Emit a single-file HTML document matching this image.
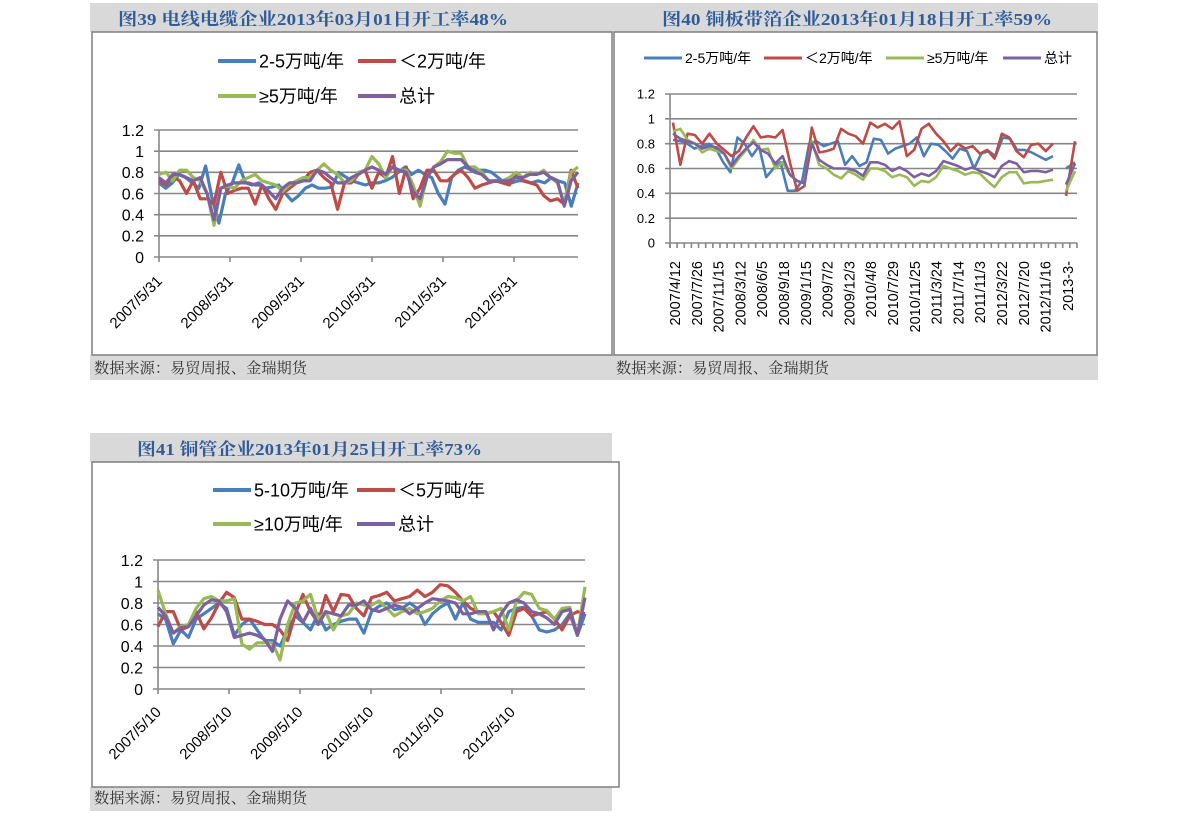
<!DOCTYPE html>
<html><head><meta charset="utf-8"><style>
html,body{margin:0;padding:0;background:#fff;width:1190px;height:823px;overflow:hidden}
svg{display:block}
</style></head><body>
<svg id="s" width="1190" height="823" xmlns="http://www.w3.org/2000/svg" font-family="Liberation Sans, Noto Sans CJK SC, sans-serif">
<rect x="90" y="3" width="522" height="29" fill="#d9d9d9"/>
<rect x="612" y="3" width="486" height="29" fill="#d9d9d9"/>
<rect x="90" y="355" width="522" height="25" fill="#d9d9d9"/>
<rect x="612" y="355" width="486" height="25" fill="#d9d9d9"/>
<rect x="92" y="32" width="520" height="323" fill="#fff" stroke="#7f7f7f" stroke-width="1.5"/>
<rect x="614" y="32" width="483" height="323" fill="#fff" stroke="#7f7f7f" stroke-width="1.5"/>
<rect x="90" y="433" width="522" height="29" fill="#d9d9d9"/>
<rect x="90" y="787" width="522" height="24" fill="#d9d9d9"/>
<rect x="92" y="462" width="527" height="325" fill="#fff" stroke="#7f7f7f" stroke-width="1.5"/>
<g font-family="Liberation Serif, Noto Serif CJK SC, serif" font-weight="bold" font-size="17" fill="#2f5c99">
<text x="118" y="25" textLength="390" lengthAdjust="spacingAndGlyphs">图39  电线电缆企业2013年03月01日开工率48%</text>
<text x="662" y="25" textLength="390" lengthAdjust="spacingAndGlyphs">图40  铜板带箔企业2013年01月18日开工率59%</text>
<text x="137" y="455" textLength="345" lengthAdjust="spacingAndGlyphs">图41  铜管企业2013年01月25日开工率73%</text>
</g>
<g font-family="Liberation Serif, Noto Serif CJK SC, serif" font-size="15" fill="#333">
<text x="94" y="373" textLength="213" lengthAdjust="spacingAndGlyphs">数据来源：易贸周报、金瑞期货</text>
<text x="616" y="373" textLength="213" lengthAdjust="spacingAndGlyphs">数据来源：易贸周报、金瑞期货</text>
<text x="94" y="803" textLength="213" lengthAdjust="spacingAndGlyphs">数据来源：易贸周报、金瑞期货</text>
</g>
<g id="g"></g>
</svg>
<script>
var NS="http://www.w3.org/2000/svg",G=document.getElementById('g');
function el(t,a,txt){var e=document.createElementNS(NS,t);for(var k in a)e.setAttribute(k,a[k]);if(txt!=null)e.textContent=txt;G.appendChild(e);return e;}
var C=["#4a7ebb","#be4b48","#98b954","#7d60a0"];
function chart(o){
 var x0=o.x0,x1=o.x1,yt=o.yt,yb=o.yb;
 for(var i=0;i<=6;i++){var y=yb-(yb-yt)*i/6;
  el('line',{x1:x0-5,x2:x1,y1:y,y2:y,stroke:'#878787','stroke-width':1.6});
  el('text',{x:x0-15,y:y+o.fs*0.36,'text-anchor':'end','font-size':o.fs,fill:'#000'},['0','0.2','0.4','0.6','0.8','1','1.2'][i]);}
 el('line',{x1:x0,x2:x0,y1:yt,y2:yb+5,stroke:'#878787','stroke-width':1.6});
 o.ticks.forEach(function(t){el('line',{x1:t,x2:t,y1:yb,y2:yb+5,stroke:'#878787','stroke-width':1.6});});
 o.series.forEach(function(s,k){
  s.forEach(function(seg){var d=seg.v,a=seg.a,b=seg.b,p=[];
   for(var i=0;i<d.length;i++){p.push((a+(b-a)*i/(d.length-1)).toFixed(1)+','+(yb-(yb-yt)*d[i]/1.2).toFixed(1));}
   el('polyline',{points:p.join(' '),fill:'none',stroke:C[k],'stroke-width':o.lw,'stroke-linejoin':'round'});});
 });
}
var c1=[
[0.7,0.65,0.7,0.78,0.75,0.7,0.65,0.86,0.55,0.32,0.6,0.7,0.87,0.7,0.68,0.7,0.65,0.66,0.68,0.6,0.53,0.58,0.65,0.68,0.65,0.65,0.66,0.8,0.76,0.72,0.7,0.68,0.7,0.7,0.72,0.75,0.8,0.85,0.78,0.82,0.78,0.75,0.6,0.5,0.75,0.82,0.85,0.82,0.82,0.82,0.8,0.75,0.7,0.7,0.72,0.72,0.7,0.72,0.7,0.75,0.72,0.7,0.48,0.7],
[0.72,0.68,0.76,0.72,0.6,0.72,0.55,0.55,0.5,0.8,0.6,0.63,0.65,0.65,0.5,0.68,0.55,0.45,0.6,0.65,0.7,0.72,0.8,0.82,0.75,0.7,0.45,0.7,0.7,0.78,0.82,0.65,0.8,0.75,0.95,0.6,0.85,0.55,0.65,0.82,0.82,0.72,0.72,0.78,0.82,0.75,0.65,0.68,0.7,0.72,0.7,0.68,0.78,0.72,0.7,0.68,0.58,0.53,0.55,0.5,0.82,0.65],
[0.78,0.8,0.72,0.82,0.82,0.75,0.72,0.6,0.3,0.65,0.67,0.65,0.72,0.75,0.78,0.72,0.7,0.68,0.62,0.68,0.72,0.75,0.75,0.82,0.88,0.82,0.78,0.7,0.72,0.8,0.82,0.95,0.88,0.75,0.85,0.82,0.82,0.68,0.48,0.75,0.85,0.9,1.0,0.98,0.98,0.85,0.85,0.8,0.72,0.72,0.72,0.75,0.8,0.75,0.8,0.78,0.82,0.75,0.7,0.5,0.8,0.85],
[0.75,0.7,0.78,0.78,0.75,0.72,0.75,0.6,0.35,0.65,0.68,0.7,0.7,0.7,0.68,0.68,0.62,0.55,0.65,0.7,0.7,0.72,0.72,0.82,0.8,0.75,0.7,0.7,0.75,0.78,0.82,0.85,0.82,0.78,0.85,0.82,0.8,0.62,0.55,0.75,0.85,0.88,0.92,0.92,0.92,0.85,0.8,0.78,0.72,0.72,0.72,0.72,0.75,0.75,0.78,0.78,0.8,0.75,0.72,0.48,0.72,0.8]];
chart({x0:159,x1:578,yt:130,yb:257,fs:16,lw:3.2,ticks:[230,301,372,443,514],
 series:c1.map(function(d){return [{v:d,a:159,b:578}];})});
var c2=[
[0.83,0.82,0.8,0.76,0.78,0.8,0.76,0.65,0.57,0.85,0.8,0.7,0.78,0.53,0.6,0.65,0.42,0.42,0.5,0.8,0.82,0.78,0.8,0.82,0.63,0.7,0.62,0.65,0.84,0.83,0.72,0.76,0.78,0.8,0.85,0.7,0.8,0.79,0.74,0.68,0.76,0.74,0.6,0.72,0.74,0.7,0.85,0.84,0.75,0.75,0.73,0.7,0.67,0.7],
[0.97,0.63,0.88,0.87,0.8,0.88,0.8,0.75,0.7,0.74,0.85,0.94,0.85,0.86,0.85,0.91,0.65,0.42,0.46,0.93,0.73,0.74,0.76,0.92,0.88,0.86,0.8,0.97,0.93,0.96,0.92,0.98,0.7,0.75,0.92,0.96,0.88,0.82,0.74,0.8,0.76,0.78,0.72,0.75,0.68,0.88,0.85,0.74,0.69,0.79,0.8,0.74,0.8],
[0.9,0.92,0.83,0.8,0.73,0.76,0.74,0.72,0.6,0.68,0.75,0.83,0.75,0.76,0.6,0.65,0.55,0.5,0.48,0.82,0.63,0.6,0.55,0.52,0.58,0.55,0.51,0.6,0.6,0.58,0.53,0.55,0.53,0.46,0.5,0.49,0.53,0.62,0.6,0.58,0.55,0.57,0.56,0.5,0.45,0.53,0.57,0.57,0.48,0.49,0.49,0.5,0.51],
[0.88,0.84,0.82,0.8,0.76,0.78,0.77,0.72,0.62,0.7,0.76,0.81,0.75,0.72,0.64,0.7,0.55,0.5,0.48,0.8,0.67,0.63,0.6,0.6,0.6,0.58,0.54,0.65,0.65,0.63,0.58,0.61,0.58,0.53,0.56,0.54,0.58,0.66,0.64,0.62,0.59,0.61,0.58,0.56,0.53,0.62,0.66,0.64,0.57,0.58,0.58,0.57,0.59]];
var last2=[[0.6,0.65],[0.38,0.82],[0.42,0.58],[0.47,0.64]];
var t2=[];for(var i=0;i<=57;i++)t2.push(670+407*i/57);
chart({x0:670,x1:1077,yt:94,yb:243,fs:13,lw:2.6,ticks:t2,
 series:c2.map(function(d,k){return [{v:d,a:673,b:1053},{v:last2[k],a:1066,b:1075}];})});
var L2=["2007/4/12","2007/7/26","2007/11/15","2008/3/12","2008/6/5","2008/9/18","2009/1/15","2009/7/2","2009/12/3","2010/4/8","2010/7/29","2010/11/25","2011/3/24","2011/7/14","2011/11/3","2012/3/22","2012/7/20","2012/11/16"];
L2.forEach(function(s,i){var x=675+i*21.8+5;el('text',{x:0,y:0,transform:'translate('+x+',261) rotate(-90)','text-anchor':'end','font-size':14.5},s);});
el('text',{x:0,y:0,transform:'translate(1073,261) rotate(-90)','text-anchor':'end','font-size':14.5},"2013-3-");
var c3=[
[0.7,0.65,0.42,0.55,0.48,0.65,0.7,0.75,0.8,0.75,0.5,0.6,0.65,0.55,0.45,0.45,0.4,0.55,0.68,0.62,0.55,0.7,0.55,0.6,0.63,0.65,0.65,0.52,0.72,0.77,0.8,0.74,0.75,0.8,0.75,0.6,0.7,0.76,0.8,0.65,0.8,0.65,0.62,0.62,0.62,0.55,0.72,0.75,0.76,0.68,0.55,0.53,0.55,0.6,0.7,0.5,0.7],
[0.58,0.72,0.72,0.55,0.58,0.72,0.56,0.66,0.8,0.9,0.85,0.65,0.65,0.63,0.6,0.6,0.55,0.45,0.7,0.88,0.72,0.62,0.87,0.72,0.88,0.87,0.75,0.68,0.85,0.87,0.9,0.82,0.84,0.86,0.92,0.86,0.9,0.97,0.96,0.9,0.82,0.75,0.72,0.7,0.72,0.62,0.5,0.72,0.75,0.68,0.7,0.72,0.65,0.55,0.68,0.72,0.7],
[0.92,0.7,0.52,0.58,0.6,0.75,0.84,0.86,0.82,0.82,0.84,0.42,0.37,0.43,0.43,0.43,0.27,0.6,0.8,0.82,0.88,0.65,0.72,0.55,0.68,0.7,0.8,0.78,0.78,0.82,0.75,0.68,0.72,0.75,0.7,0.72,0.75,0.82,0.86,0.85,0.82,0.86,0.7,0.7,0.72,0.75,0.55,0.82,0.9,0.88,0.75,0.73,0.65,0.75,0.76,0.5,0.95],
[0.76,0.68,0.52,0.57,0.58,0.68,0.78,0.83,0.82,0.72,0.48,0.5,0.52,0.5,0.46,0.35,0.65,0.82,0.75,0.62,0.75,0.6,0.72,0.7,0.68,0.78,0.78,0.82,0.74,0.72,0.75,0.78,0.76,0.7,0.75,0.8,0.84,0.83,0.82,0.8,0.7,0.7,0.72,0.72,0.55,0.7,0.8,0.83,0.8,0.72,0.7,0.66,0.6,0.72,0.74,0.5,0.85]];
chart({x0:158,x1:585,yt:560,yb:689,fs:16,lw:3.2,ticks:[229,300,371,441,512],
 series:c3.map(function(d){return [{v:d,a:158,b:585}];})});
function rot(arr,x0,step,y){arr.forEach(function(s,i){var x=x0+i*step+4;el('text',{x:0,y:0,transform:'translate('+x+','+y+') rotate(-45)','text-anchor':'end','font-size':15},s);});}
rot(["2007/5/31","2008/5/31","2009/5/31","2010/5/31","2011/5/31","2012/5/31"],159,71,282);
rot(["2007/5/10","2008/5/10","2009/5/10","2010/5/10","2011/5/10","2012/5/10"],158,70.8,713);
function leg(x,y,k,txt,fs,lw,len){el('line',{x1:x,x2:x+len,y1:y,y2:y,stroke:C[k],'stroke-width':lw});el('text',{x:x+len+3,y:y+fs*0.36,'font-size':fs,fill:'#000'},txt);}
leg(218,61,0,"2-5万吨/年",18,4,38);leg(358,61,1,"＜2万吨/年",18,4,38);
leg(218,96,2,"≥5万吨/年",18,4,38);leg(358,96,3,"总计",18,4,38);
leg(644,58,0,"2-5万吨/年",14,3,38);leg(764,58,1,"＜2万吨/年",14,3,38);
leg(886,58,2,"≥5万吨/年",14,3,38);leg(1003,58,3,"总计",14,3,38);
leg(213,490,0,"5-10万吨/年",18,4,38);leg(357,490,1,"＜5万吨/年",18,4,38);
leg(213,524,2,"≥10万吨/年",18,4,38);leg(357,524,3,"总计",18,4,38);
</script>
</body></html>
